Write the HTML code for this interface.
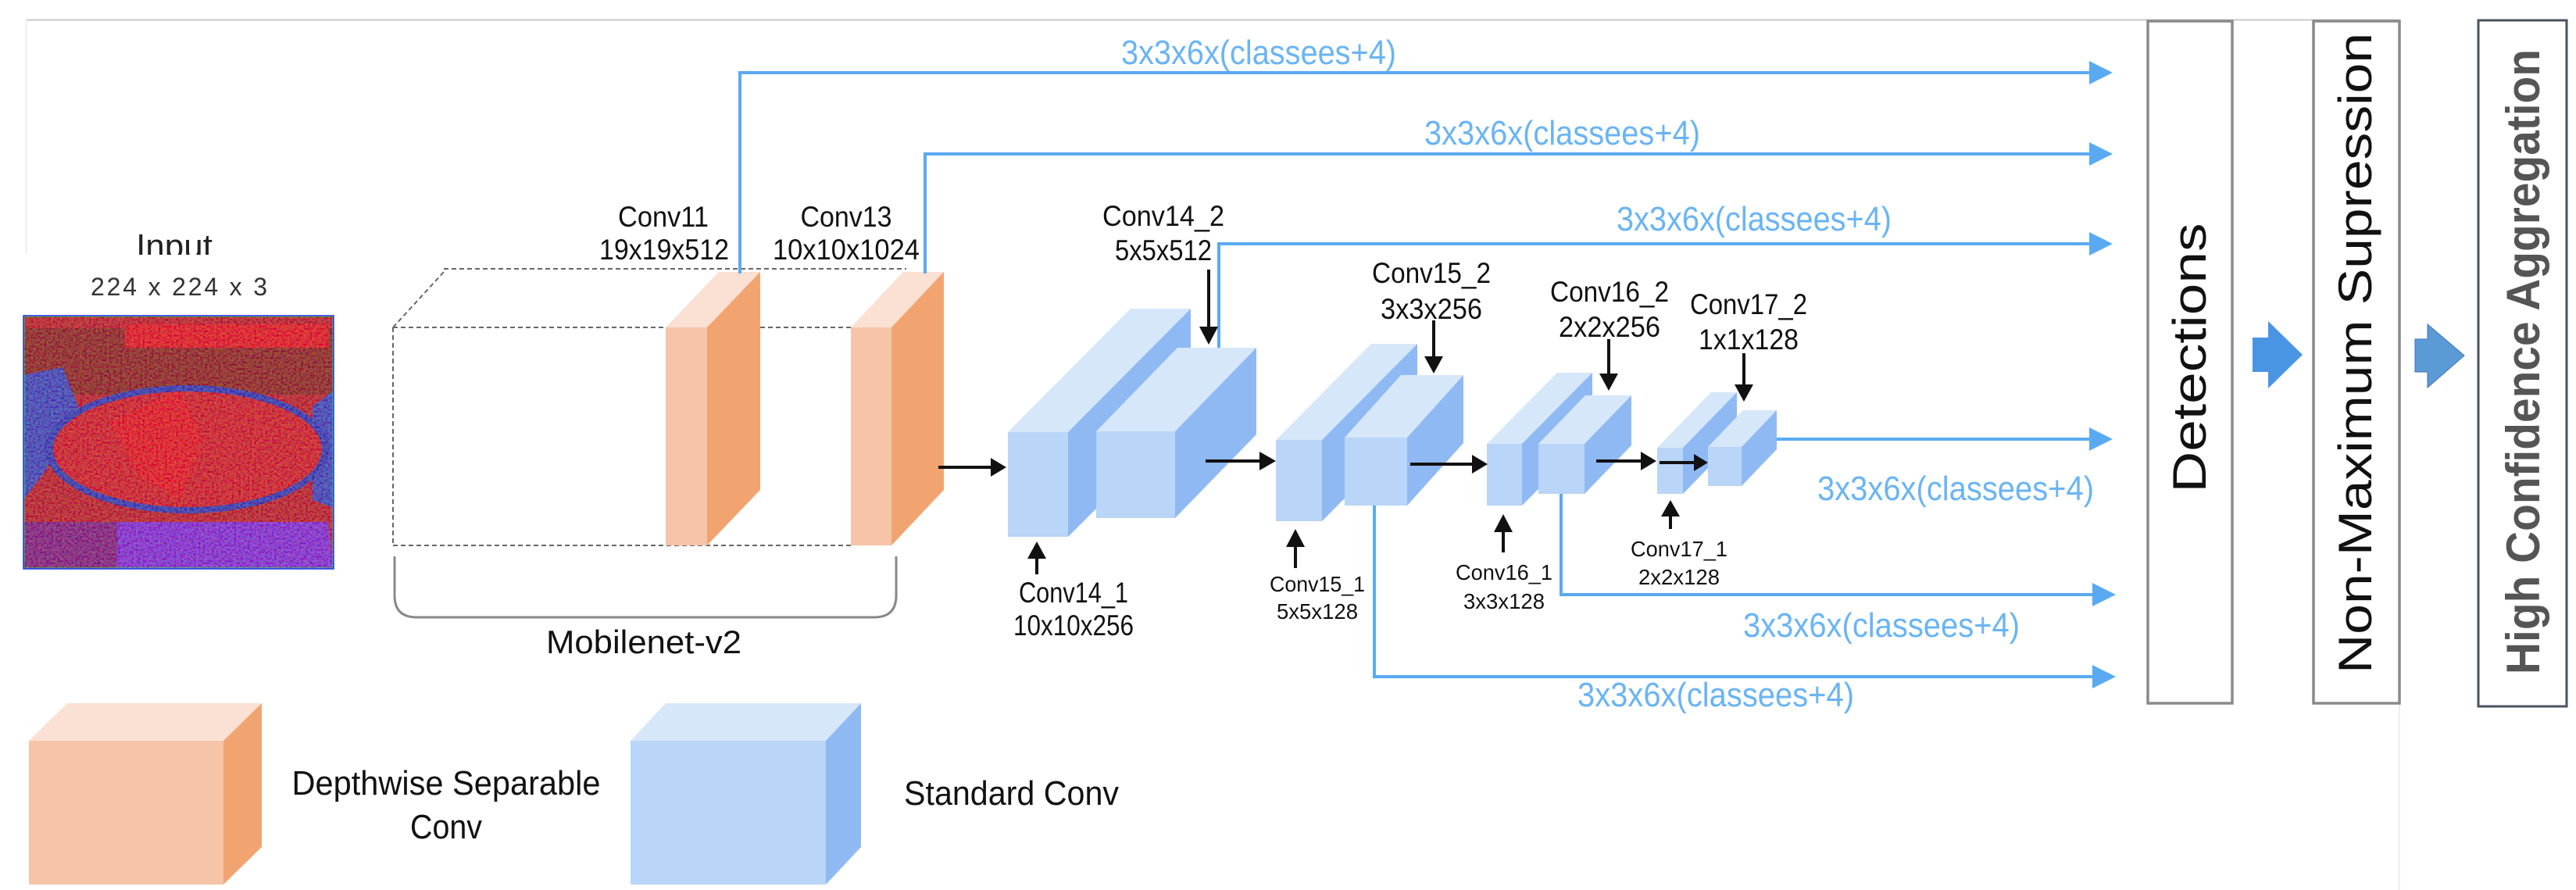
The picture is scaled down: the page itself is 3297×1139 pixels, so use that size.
<!DOCTYPE html>
<html><head><meta charset="utf-8"><style>
html,body{margin:0;padding:0;background:#fff;}
svg{display:block;}
text{font-family:"Liberation Sans",sans-serif;}
</style></head><body>
<svg width="3297" height="1139" viewBox="0 0 3297 1139" xmlns="http://www.w3.org/2000/svg">
<defs>
<filter id="noise" x="0" y="0" width="100%" height="100%">
<feTurbulence type="fractalNoise" baseFrequency="0.35" numOctaves="1" seed="3" result="n"/>
<feColorMatrix in="n" type="matrix" values="1.2 0 0 0 -0.3  0 1.6 0 0 -0.6  0 0 1.2 0 -0.3  0 0 0 0 0.32"/>
</filter>
</defs>

<line x1="33" y1="25.5" x2="3072" y2="25.5" stroke="#c8c8c8" stroke-width="2"/>
<line x1="33.5" y1="25" x2="33.5" y2="325" stroke="#eeeeee" stroke-width="2"/>
<line x1="3071" y1="25" x2="3071" y2="1139" stroke="#eeeeee" stroke-width="2"/>

<text x="223" y="330" font-size="44" text-anchor="middle" fill="#222">Input</text>
<rect x="0" y="326" width="440" height="20" fill="#fff"/>
<text x="229" y="378" font-size="32" text-anchor="middle" fill="#333" textLength="226" lengthAdjust="spacing">224  x  224  x  3</text>
<g>
<rect x="30" y="404" width="397" height="324" fill="#d01a1a"/>
<rect x="30" y="420" width="397" height="85" fill="#9a2212"/>
<rect x="160" y="415" width="260" height="30" fill="#ff1010"/>
<path d="M30 480 L80 470 L100 520 L60 600 L30 640 Z" fill="#3848c8"/>
<path d="M400 520 L427 500 L427 650 L400 640 Z" fill="#3848c8"/>
<ellipse cx="240" cy="575" rx="182" ry="82" fill="#2a38c0"/>
<ellipse cx="240" cy="575" rx="172" ry="74" fill="#e81818"/>
<path d="M140 540 L230 500 L260 560 L230 640 L180 610 Z" fill="#ff1010"/>
<path d="M150 668 L420 668 L427 728 L120 728 Z" fill="#8a2ae8"/>
<rect x="30" y="668" width="120" height="60" fill="#8a1a80"/>
<rect x="30" y="404" width="397" height="324" filter="url(#noise)"/>
<rect x="31" y="405" width="395" height="322" fill="none" stroke="#20ff20" stroke-width="2" stroke-opacity="0.5"/>
<rect x="30" y="404" width="397" height="324" fill="none" stroke="#2030ff" stroke-width="1.5"/>
</g>

<g fill="none" stroke="#666" stroke-width="2" stroke-dasharray="6,4">
<line x1="503" y1="419" x2="1090" y2="419"/>
<line x1="503" y1="698" x2="1090" y2="698"/>
<line x1="503" y1="419" x2="503" y2="698"/>
<line x1="503" y1="419" x2="568" y2="348"/>
<line x1="568" y1="344" x2="1160" y2="344"/>
</g>
<polygon points="852,419 905,419 973,348 920,348" fill="#fbe0d4"/>
<rect x="852" y="419" width="53" height="279" fill="#f6c4a8"/>
<polygon points="905,419 973,348 973,627 905,698" fill="#f2a470"/>
<polygon points="1089,419 1141,419 1208,348 1156,348" fill="#fbe0d4"/>
<rect x="1089" y="419" width="52" height="279" fill="#f6c4a8"/>
<polygon points="1141,419 1208,348 1208,627 1141,698" fill="#f2a470"/>

<path d="M505 712 L505 762 Q505 790 533 790 L1119 790 Q1147 790 1147 762 L1147 712" fill="none" stroke="#888" stroke-width="3"/>
<text x="824" y="836" font-size="42" text-anchor="middle" fill="#111" textLength="250" lengthAdjust="spacingAndGlyphs">Mobilenet-v2</text>

<g font-size="37" fill="#111" text-anchor="middle">
<text x="849" y="290" textLength="116" lengthAdjust="spacingAndGlyphs">Conv11</text>
<text x="850" y="332" textLength="166" lengthAdjust="spacingAndGlyphs">19x19x512</text>
<text x="1083" y="290" textLength="117" lengthAdjust="spacingAndGlyphs">Conv13</text>
<text x="1083" y="332" textLength="188" lengthAdjust="spacingAndGlyphs">10x10x1024</text>
<text x="1489" y="289" textLength="156" lengthAdjust="spacingAndGlyphs">Conv14_2</text>
<text x="1489" y="333" textLength="124" lengthAdjust="spacingAndGlyphs">5x5x512</text>
<text x="1374" y="771" textLength="140" lengthAdjust="spacingAndGlyphs">Conv14_1</text>
<text x="1374" y="813" textLength="154" lengthAdjust="spacingAndGlyphs">10x10x256</text>
<text x="1832" y="362" textLength="152" lengthAdjust="spacingAndGlyphs">Conv15_2</text>
<text x="1832" y="408" textLength="130" lengthAdjust="spacingAndGlyphs">3x3x256</text>
<text x="2060" y="386" textLength="152" lengthAdjust="spacingAndGlyphs">Conv16_2</text>
<text x="2060" y="431" textLength="130" lengthAdjust="spacingAndGlyphs">2x2x256</text>
<text x="2238" y="402" textLength="150" lengthAdjust="spacingAndGlyphs">Conv17_2</text>
<text x="2238" y="447" textLength="128" lengthAdjust="spacingAndGlyphs">1x1x128</text>
</g>
<g font-size="28" fill="#111" text-anchor="middle">
<text x="1686" y="757" textLength="122" lengthAdjust="spacingAndGlyphs">Conv15_1</text>
<text x="1686" y="792" textLength="104" lengthAdjust="spacingAndGlyphs">5x5x128</text>
<text x="1925" y="742" textLength="124" lengthAdjust="spacingAndGlyphs">Conv16_1</text>
<text x="1925" y="779" textLength="104" lengthAdjust="spacingAndGlyphs">3x3x128</text>
<text x="2149" y="712" textLength="124" lengthAdjust="spacingAndGlyphs">Conv17_1</text>
<text x="2149" y="748" textLength="104" lengthAdjust="spacingAndGlyphs">2x2x128</text>
</g>

<g fill="none" stroke="#5aaaf2" stroke-width="4">
<polyline points="947,350 947,93 2680,93"/>
<polyline points="1184,350 1184,197 2680,197"/>
<polyline points="1560,447 1560,312 2680,312"/>
<polyline points="2274,562 2680,562"/>
<polyline points="1998,632 1998,761 2685,761"/>
<polyline points="1759,647 1759,866 2685,866"/>
</g>
<g fill="#5aaaf2">
<polygon points="2674,78 2704,93 2674,108"/>
<polygon points="2674,182 2704,197 2674,212"/>
<polygon points="2674,297 2704,312 2674,327"/>
<polygon points="2674,547 2704,562 2674,577"/>
<polygon points="2678,746 2708,761 2678,776"/>
<polygon points="2678,851 2708,866 2678,881"/>
</g>
<g font-size="44" fill="#6ab4f4">
<text x="1435" y="82" textLength="352" lengthAdjust="spacingAndGlyphs">3x3x6x(classees+4)</text>
<text x="1823" y="185" textLength="353" lengthAdjust="spacingAndGlyphs">3x3x6x(classees+4)</text>
<text x="2069" y="295" textLength="352" lengthAdjust="spacingAndGlyphs">3x3x6x(classees+4)</text>
<text x="2326" y="640" textLength="354" lengthAdjust="spacingAndGlyphs">3x3x6x(classees+4)</text>
<text x="2231" y="815" textLength="354" lengthAdjust="spacingAndGlyphs">3x3x6x(classees+4)</text>
<text x="2019" y="904" textLength="354" lengthAdjust="spacingAndGlyphs">3x3x6x(classees+4)</text>
</g>

<g>
<polygon points="1290,553 1367,553 1524,395 1447,395" fill="#d6e7f9"/>
<rect x="1290" y="553" width="77" height="134" fill="#b9d5f7"/>
<polygon points="1367,553 1524,395 1524,530 1367,687" fill="#8fb9f3"/>
<polygon points="1403,552 1504,552 1608,445 1507,445" fill="#d6e7f9"/>
<rect x="1403" y="552" width="101" height="111" fill="#b9d5f7"/>
<polygon points="1504,552 1608,445 1608,556 1504,663" fill="#8fb9f3"/>
<polygon points="1633,563 1692,563 1814,440 1755,440" fill="#d6e7f9"/>
<rect x="1633" y="563" width="59" height="104" fill="#b9d5f7"/>
<polygon points="1692,563 1814,440 1814,544 1692,667" fill="#8fb9f3"/>
<polygon points="1721,560 1801,560 1873,480 1793,480" fill="#d6e7f9"/>
<rect x="1721" y="560" width="80" height="87" fill="#b9d5f7"/>
<polygon points="1801,560 1873,480 1873,567 1801,647" fill="#8fb9f3"/>
<polygon points="1903,568 1948,568 2038,477 1993,477" fill="#d6e7f9"/>
<rect x="1903" y="568" width="45" height="79" fill="#b9d5f7"/>
<polygon points="1948,568 2038,477 2038,556 1948,647" fill="#8fb9f3"/>
<polygon points="1969,568 2028,568 2088,506 2029,506" fill="#d6e7f9"/>
<rect x="1969" y="568" width="59" height="64" fill="#b9d5f7"/>
<polygon points="2028,568 2088,506 2088,570 2028,632" fill="#8fb9f3"/>
<polygon points="2121,573 2154,573 2223,502 2190,502" fill="#d6e7f9"/>
<rect x="2121" y="573" width="33" height="59" fill="#b9d5f7"/>
<polygon points="2154,573 2223,502 2223,561 2154,632" fill="#8fb9f3"/>
<polygon points="2186,572 2229,572 2274,525 2231,525" fill="#d6e7f9"/>
<rect x="2186" y="572" width="43" height="50" fill="#b9d5f7"/>
<polygon points="2229,572 2274,525 2274,575 2229,622" fill="#8fb9f3"/>
</g>

<g stroke="#111" stroke-width="4" fill="none">
<line x1="1201" y1="598" x2="1270" y2="598"/>
<line x1="1543" y1="590" x2="1615" y2="590"/>
<line x1="1805" y1="594" x2="1888" y2="594"/>
<line x1="2043" y1="590" x2="2104" y2="590"/>
<line x1="2124" y1="592" x2="2170" y2="592"/>
<line x1="1547" y1="345" x2="1547" y2="420"/>
<line x1="1835" y1="410" x2="1835" y2="458"/>
<line x1="2059" y1="434" x2="2059" y2="480"/>
<line x1="2232" y1="452" x2="2232" y2="495"/>
<line x1="1327" y1="735" x2="1327" y2="712"/>
<line x1="1658" y1="727" x2="1658" y2="697"/>
<line x1="1924" y1="707" x2="1924" y2="678"/>
<line x1="2138" y1="677" x2="2138" y2="658"/>
</g>
<g fill="#111">
<polygon points="1268,586 1288,598 1268,610"/>
<polygon points="1612,578 1633,590 1612,602"/>
<polygon points="1884,582 1904,594 1884,606"/>
<polygon points="2100,578 2120,590 2100,602"/>
<polygon points="2168,581 2186,592 2168,603"/>
<polygon points="1535,418 1547,441 1559,418"/>
<polygon points="1823,456 1835,478 1847,456"/>
<polygon points="2047,478 2059,500 2071,478"/>
<polygon points="2220,492 2232,514 2244,492"/>
<polygon points="1315,715 1327,693 1339,715"/>
<polygon points="1646,700 1658,677 1670,700"/>
<polygon points="1912,681 1924,658 1936,681"/>
<polygon points="2126,661 2138,640 2150,661"/>
</g>

<rect x="2749" y="27" width="108" height="873" fill="#fff" stroke="#8a8a8a" stroke-width="3.5"/>
<rect x="2961" y="27" width="110" height="873" fill="#fff" stroke="#8a8a8a" stroke-width="3.5"/>
<rect x="3172" y="26" width="113" height="878" fill="#fff" stroke="#4a5360" stroke-width="3"/>
<text transform="translate(2823,458) rotate(-90)" font-size="60" text-anchor="middle" fill="#111" textLength="345" lengthAdjust="spacingAndGlyphs">Detections</text>
<text transform="translate(3035,452) rotate(-90)" font-size="60" text-anchor="middle" fill="#111" textLength="820" lengthAdjust="spacingAndGlyphs">Non-Maximum Supression</text>
<text transform="translate(3250,463) rotate(-90)" font-size="60" font-weight="bold" text-anchor="middle" fill="#555" textLength="800" lengthAdjust="spacingAndGlyphs">High Confidence Aggregation</text>

<polygon points="2883,432 2903,432 2903,411 2947,454 2903,497 2903,476 2883,476" fill="#4a94e4"/>
<polygon points="3091,434 3107,434 3107,415 3154,455 3107,496 3107,476 3091,476" fill="#5b9bd5" stroke="#3f6fc0" stroke-width="1"/>

<polygon points="37,948 286,948 335,900 86,900" fill="#fbe0d4"/>
<rect x="37" y="948" width="249" height="184" fill="#f6c4a8"/>
<polygon points="286,948 335,900 335,1084 286,1132" fill="#f2a470"/>
<text x="571" y="1017" font-size="44" text-anchor="middle" fill="#111" textLength="395" lengthAdjust="spacingAndGlyphs">Depthwise Separable</text>
<text x="571" y="1073" font-size="44" text-anchor="middle" fill="#111" textLength="92" lengthAdjust="spacingAndGlyphs">Conv</text>
<polygon points="807,948 1057,948 1102,900 852,900" fill="#d6e7f9"/>
<rect x="807" y="948" width="250" height="184" fill="#b9d5f7"/>
<polygon points="1057,948 1102,900 1102,1084 1057,1132" fill="#8fb9f3"/>
<text x="1157" y="1030" font-size="44" fill="#111" textLength="275" lengthAdjust="spacingAndGlyphs">Standard Conv</text>
</svg>
</body></html>
